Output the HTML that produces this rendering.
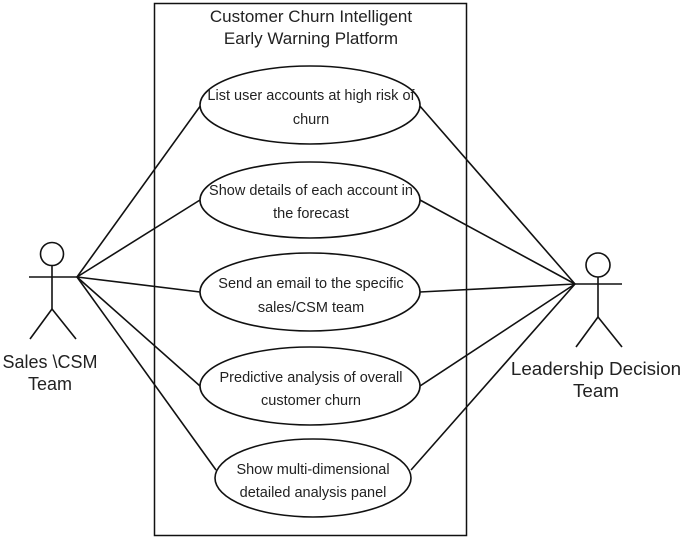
<!DOCTYPE html>
<html><head><meta charset="utf-8"><style>body{margin:0;background:#fff}</style></head><body>
<svg width="685" height="539" viewBox="0 0 685 539" xmlns="http://www.w3.org/2000/svg" font-family="Liberation Sans, Arial, sans-serif" fill="#222">
<rect x="154.5" y="3.5" width="312" height="532" fill="none" stroke="#111" stroke-width="1.5"/>
<text x="311" y="22" font-size="17" text-anchor="middle">Customer Churn Intelligent</text>
<text x="311" y="44" font-size="17" text-anchor="middle">Early Warning Platform</text>
<g stroke="#111" stroke-width="1.6">
<line x1="77" y1="277" x2="201" y2="105"/>
<line x1="77" y1="277" x2="200" y2="200"/>
<line x1="77" y1="277" x2="200" y2="292"/>
<line x1="77" y1="277" x2="200" y2="386"/>
<line x1="77" y1="277" x2="216" y2="470"/>
<line x1="575" y1="284" x2="419" y2="105"/>
<line x1="575" y1="284" x2="420" y2="200"/>
<line x1="575" y1="284" x2="420" y2="292"/>
<line x1="575" y1="284" x2="420" y2="386"/>
<line x1="575" y1="284" x2="411" y2="470"/>
</g>
<g fill="#fff" stroke="#111" stroke-width="1.6">
<ellipse cx="310" cy="105" rx="110" ry="39"/>
<ellipse cx="310" cy="200" rx="110" ry="38"/>
<ellipse cx="310" cy="292" rx="110" ry="39"/>
<ellipse cx="310" cy="386" rx="110" ry="39"/>
<ellipse cx="313" cy="478" rx="98" ry="39"/>
</g>
<g font-size="14.5" text-anchor="middle">
<text x="311" y="100">List user accounts at high risk of</text>
<text x="311" y="124">churn</text>
<text x="311" y="195">Show details of each account in</text>
<text x="311" y="218">the forecast</text>
<text x="311" y="288">Send an email to the specific</text>
<text x="311" y="312">sales/CSM team</text>
<text x="311" y="382">Predictive analysis of overall</text>
<text x="311" y="405">customer churn</text>
<text x="313" y="474">Show multi-dimensional</text>
<text x="313" y="497">detailed analysis panel</text>
</g>
<g stroke="#111" stroke-width="1.6" fill="none">
<circle cx="52" cy="254" r="11.5"/>
<line x1="29" y1="277" x2="77" y2="277"/>
<line x1="52" y1="266" x2="52" y2="309"/>
<line x1="52" y1="309" x2="30" y2="339"/>
<line x1="52" y1="309" x2="76" y2="339"/>
<circle cx="598" cy="265" r="12"/>
<line x1="575" y1="284" x2="622" y2="284"/>
<line x1="598" y1="277" x2="598" y2="317"/>
<line x1="598" y1="317" x2="576" y2="347"/>
<line x1="598" y1="317" x2="622" y2="347"/>
</g>
<g text-anchor="middle">
<text x="50" y="368" font-size="18">Sales \CSM</text>
<text x="50" y="390" font-size="18">Team</text>
<text x="596" y="375" font-size="18.8">Leadership Decision</text>
<text x="596" y="397" font-size="18.8">Team</text>
</g>
</svg>
</body></html>
